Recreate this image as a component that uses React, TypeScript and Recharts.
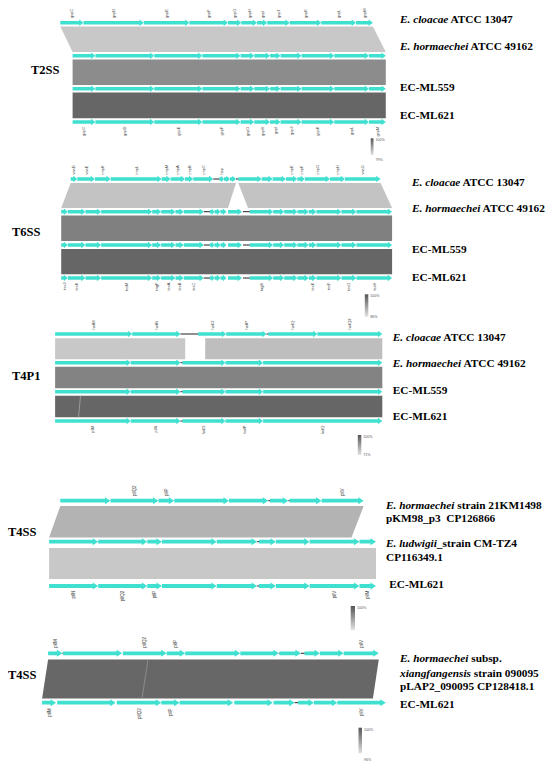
import React from 'react';
import { ComposedChart, XAxis, YAxis, ReferenceArea, ReferenceLine, Scatter } from 'recharts';

type Seg = [number, number];

const W = 550;
const H = 768;
const TEAL = '#40e0d0';
const SERIF = "'Liberation Serif', 'Times New Roman', serif";
const SANS = "'Liberation Sans', Arial, sans-serif";

// ---------------- T2SS ----------------
const T2SS_NAMES = ['gspC', 'gspD', 'gspE', 'gspF', 'gspG', 'gspH', 'gspI', 'gspJ', 'gspK', 'gspL', 'gspM'];
const T2SS_TOP_BOUNDS = [60.3, 83.5, 143.8, 189.4, 228, 241.3, 257.1, 267.3, 289.7, 321.3, 356, 372.9];
const T2SS_LOW_BOUNDS = [72.6, 95.4, 154.3, 202.4, 240.6, 254.3, 270.1, 280.6, 301.6, 334.3, 369, 385.8];
const T2SS_ROWS = [22.7, 55.7, 88.7, 122];

// ---------------- T6SS ----------------
const T6SS_TOP_GENES: Seg[] = [
  [70.7, 77.3], [77.3, 95], [95, 110.7], [110.7, 161.7], [161.7, 170.7], [170.7, 185], [185, 193.3], [193.3, 213.3],
  [219.3, 224], [224, 230], [230, 236],
  [238.3, 261.7], [261.7, 272.7], [272.7, 286], [286, 297.3], [297.3, 305], [305, 330], [330, 345], [345, 380.6],
];
const T6SS_TOP_LINES: Seg[] = [[213.3, 219.3], [236, 238.3]];
const T6SS_LOW_GENES: Seg[] = [
  [61.2, 67.8], [67.8, 85.5], [85.5, 101.2], [101.2, 152.2], [152.2, 161.2], [161.2, 175.5], [175.5, 183.8], [183.8, 203.8],
  [209.8, 214.5], [214.5, 220.5], [220.5, 226.5], [228, 242],
  [249.8, 273.2], [273.2, 284.2], [284.2, 297.5], [297.5, 308.8], [308.8, 316.5], [316.5, 341.5], [341.5, 356.5], [356.5, 392.1],
];
const T6SS_LOW_LINES: Seg[] = [[203.8, 209.8], [243, 249.8]];
const T6SS_TOP_LABELS: [number, string][] = [
  [0, 'vasD'], [1, 'vasE'], [2, 'impK'], [3, 'impL'], [4, 'impM'], [5, 'impA'], [6, 'impB'], [7, 'impC'], [8, 'hcp'],
  [14, 'impE'], [15, 'impF'], [16, 'impG'], [17, 'impH'], [18, 'vasG'],
];
const T6SS_BOTTOM_LABELS: [number, string][] = [
  [0, 'tssJ'], [1, 'tssK'], [3, 'tssM'], [4, 'tagF'], [5, 'tssA'], [6, 'tssB'], [7, 'tssC'],
  [12, 'tagH'], [16, 'tssE'], [17, 'tssF'], [18, 'tssG'], [19, 'tssH'],
];
const T6SS_ROWS = [179, 211.7, 245, 278];

// ---------------- T4P1 ----------------
const T4P1_TOP_GENES: Seg[] = [[55.1, 132.2], [132.2, 180.6], [198.2, 226.2], [226.2, 266.6], [268.3, 317.4], [317.4, 382.3]];
const T4P1_TOP_LINES: Seg[] = [[180.6, 198.2], [266.6, 268.3]];
const T4P1_LOW_GENES: Seg[] = [[55.1, 130.8], [130.8, 180.6], [182.4, 225.5], [225.5, 263.1], [263.1, 382.3]];
const T4P1_LOW_LINES: Seg[] = [[180.6, 182.4]];
const T4P1_TOP_LABELS: [number, string][] = [[0, 'hofM'], [1, 'hofN'], [2, 'hofO'], [3, 'hofP'], [4, 'hofQ'], [5, 'hofQ2']];
const T4P1_BOTTOM_LABELS: [number, string][] = [[0, 'pilM'], [1, 'pilN'], [2, 'hofO'], [3, 'hofP'], [4, 'hofQ']];
const T4P1_ROWS = [334, 362.7, 391.7, 421];

// ---------------- T4SS (1) ----------------
const T4SSA_TOP_GENES: Seg[] = [[60.3, 110.5], [110.5, 158.5], [158.5, 174.3], [174.3, 229], [229, 268.3], [270, 288.3], [289.4, 321.6], [321.6, 363.7]];
const T4SSA_TOP_LINES: Seg[] = [[268.3, 270], [288.3, 289.4]];
const T4SSA_LOW_GENES: Seg[] = [[49.1, 98.2], [98.2, 147.3], [147.3, 162], [162, 216.8], [216.8, 257.1], [258.9, 276], [276, 309.7], [309.7, 359.5], [359.5, 376]];
const T4SSA_LOW_LINES: Seg[] = [[257.1, 258.9]];
const T4SSA_TOP_LABELS: [number, string][] = [[1, 'pilQ2'], [2, 'pilP'], [7, 'pilV']];
const T4SSA_BOTTOM_LABELS: [number, string][] = [[0, 'pilN'], [1, 'pilQ2'], [2, 'pilP'], [7, 'pilV'], [8, 'pilM']];
const T4SSA_ROWS = [500.7, 541.7, 586];

// ---------------- T4SS (2) ----------------
const T4SSB_TOP_GENES: Seg[] = [[48.1, 62.4], [63.1, 122.1], [122.8, 166.6], [166.6, 185.2], [185.2, 240.3], [240.3, 278.9], [279.5, 300.9], [304.5, 319.9], [319.9, 343.7], [343.7, 378.8]];
const T4SSB_TOP_LINES: Seg[] = [[62.4, 63.1], [278.9, 279.5], [300.9, 304.5]];
const T4SSB_LOW_GENES: Seg[] = [[42.1, 56.1], [57.2, 115.7], [116.8, 161.3], [161.3, 179.6], [179.6, 233.2], [234.3, 272.9], [273.6, 294.6], [298.1, 313.9], [313.9, 337.4], [337.4, 385.8]];
const T4SSB_LOW_LINES: Seg[] = [[294.6, 298.1]];
const T4SSB_TOP_LABELS: [number, string][] = [[0, 'pilM'], [2, 'pilQ2'], [3, 'pilP'], [9, 'pilV']];
const T4SSB_BOTTOM_LABELS: [number, string][] = [[0, 'pilM'], [2, 'pilQ2'], [3, 'pilP'], [9, 'pilV']];
const T4SSB_ROWS = [653.3, 702.7];

// ---------------- alignment bands ----------------
type Band = { top: Seg; bottom: Seg; y: Seg; fill: string };
const BANDS: Band[] = [
  { top: [60.3, 372.9], bottom: [72.6, 385.8], y: [26.5, 52], fill: '#c8c8c8' },
  { top: [72.6, 385.8], bottom: [72.6, 385.8], y: [59.5, 85], fill: '#8c8c8c' },
  { top: [72.6, 385.8], bottom: [72.6, 385.8], y: [92.5, 118.3], fill: '#666666' },

  { top: [70.7, 236], bottom: [61.2, 228], y: [183, 208], fill: '#c3c3c3' },
  { top: [238.3, 380.6], bottom: [248, 392.1], y: [183, 208], fill: '#c3c3c3' },
  { top: [61.2, 392.1], bottom: [61.2, 392.1], y: [215.5, 241], fill: '#808080' },
  { top: [61.2, 392.1], bottom: [61.2, 392.1], y: [249, 274.3], fill: '#666666' },

  { top: [55.1, 185.2], bottom: [55.1, 185.2], y: [338.3, 359.3], fill: '#c8c8c8' },
  { top: [205.2, 382.3], bottom: [205.2, 382.3], y: [338.3, 359.3], fill: '#bebebe' },
  { top: [55.1, 382.3], bottom: [55.1, 382.3], y: [366.7, 388.3], fill: '#838383' },
  { top: [55.1, 382.3], bottom: [55.1, 382.3], y: [395.7, 417.3], fill: '#666666' },

  { top: [60.3, 363.7], bottom: [49.1, 351.5], y: [506, 537.5], fill: '#b3b3b3' },
  { top: [49.1, 376], bottom: [49.1, 376], y: [548, 579], fill: '#c8c8c8' },

  { top: [48.1, 378.8], bottom: [42.1, 372.9], y: [659.5, 698.5], fill: '#676767' },
];
const SEAMS: { a: [number, number]; b: [number, number]; color: string }[] = [
  { a: [80.5, 395.7], b: [78.5, 417.3], color: '#9a9a9a' },
  { a: [148, 659.5], b: [142, 698.5], color: '#8c8c8c' },
];

// ---------------- texts ----------------
const TITLES = [
  { x: 31, y: 69.5, name: 'T2SS' },
  { x: 12, y: 231.5, name: 'T6SS' },
  { x: 12, y: 376, name: 'T4P1' },
  { x: 8, y: 531.7, name: 'T4SS' },
  { x: 8, y: 675, name: 'T4SS' },
];
const SPECIES = [
  { x: 400, y: 19, it: 'E. cloacae', rest: ' ATCC 13047' },
  { x: 400, y: 46, it: 'E. hormaechei', rest: ' ATCC 49162' },
  { x: 400, y: 87.3, it: '', rest: 'EC-ML559' },
  { x: 400, y: 115, it: '', rest: 'EC-ML621' },
  { x: 412, y: 181.7, it: 'E. cloacae', rest: ' ATCC 13047' },
  { x: 412, y: 207.7, it: 'E. hormaechei', rest: ' ATCC 49162' },
  { x: 412, y: 249, it: '', rest: 'EC-ML559' },
  { x: 412, y: 277.3, it: '', rest: 'EC-ML621' },
  { x: 392.8, y: 336.7, it: 'E. cloacae', rest: ' ATCC 13047' },
  { x: 392.8, y: 363.3, it: 'E. hormaechei', rest: ' ATCC 49162' },
  { x: 392.8, y: 390, it: '', rest: 'EC-ML559' },
  { x: 392.8, y: 416, it: '', rest: 'EC-ML621' },
  { x: 386, y: 504.5, it: 'E. hormaechei', rest: ' strain 21KM1498' },
  { x: 386, y: 517.5, it: '', rest: 'pKM98_p3\u00a0\u00a0CP126866' },
  { x: 386, y: 543, it: 'E. ludwigii', rest: '_strain CM-TZ4' },
  { x: 386, y: 556.5, it: '', rest: 'CP116349.1' },
  { x: 389.3, y: 583.5, it: '', rest: 'EC-ML621' },
  { x: 400, y: 658.3, it: 'E. hormaechei', rest: ' subsp.' },
  { x: 400, y: 672.5, it: 'xiangfangensis', rest: ' strain 090095' },
  { x: 400, y: 686, it: '', rest: 'pLAP2_090095 CP128418.1' },
  { x: 400, y: 704.3, it: '', rest: 'EC-ML621' },
];
const LEGENDS = [
  { id: 'lg1', x: [370.7, 373.5] as Seg, y: [138.3, 155] as Seg, hi: '100%', hiY: 140, lo: '79%', loY: 160 },
  { id: 'lg2', x: [364.8, 368.3] as Seg, y: [294.3, 316.7] as Seg, hi: '100%', hiY: 296, lo: '86%', loY: 316.5 },
  { id: 'lg3', x: [357.8, 361.3] as Seg, y: [435, 455] as Seg, hi: '100%', hiY: 437, lo: '71%', loY: 455 },
  { id: 'lg4', x: [350.7, 355] as Seg, y: [606, 630] as Seg, hi: '100%', hiY: 607.7, lo: '', loY: 630 },
  { id: 'lg5', x: [358.5, 362] as Seg, y: [727.7, 753.3] as Seg, hi: '100%', hiY: 730, lo: '96%', loY: 760 },
];

// ---------------- build ----------------
const chain = (b: number[]): Seg[] => b.slice(0, -1).map((v, i) => [v, b[i + 1]] as Seg);
type Track = { y: number; genes: Seg[]; lines: Seg[]; half: number; head: number };
const mk = (y: number, genes: Seg[], lines: Seg[], big = false): Track => ({ y, genes, lines, half: big ? 3.5 : 3.2, head: big ? 5.5 : 4.3 });

const TRACKS: Track[] = [
  mk(T2SS_ROWS[0], chain(T2SS_TOP_BOUNDS), []),
  ...T2SS_ROWS.slice(1).map((y) => mk(y, chain(T2SS_LOW_BOUNDS), [])),
  mk(T6SS_ROWS[0], T6SS_TOP_GENES, T6SS_TOP_LINES),
  ...T6SS_ROWS.slice(1).map((y) => mk(y, T6SS_LOW_GENES, T6SS_LOW_LINES)),
  mk(T4P1_ROWS[0], T4P1_TOP_GENES, T4P1_TOP_LINES),
  ...T4P1_ROWS.slice(1).map((y) => mk(y, T4P1_LOW_GENES, T4P1_LOW_LINES)),
  mk(T4SSA_ROWS[0], T4SSA_TOP_GENES, T4SSA_TOP_LINES, true),
  ...T4SSA_ROWS.slice(1).map((y) => mk(y, T4SSA_LOW_GENES, T4SSA_LOW_LINES, true)),
  mk(T4SSB_ROWS[0], T4SSB_TOP_GENES, T4SSB_TOP_LINES, true),
  mk(T4SSB_ROWS[1], T4SSB_LOW_GENES, T4SSB_LOW_LINES, true),
];

type GL = { x: number; y: number; name: string; top: boolean; size: number };
const labelsFor = (genes: Seg[], labels: [number, string][], rowY: number, top: boolean, size = 4): GL[] =>
  labels.map(([i, name]) => ({ x: (genes[i][0] + genes[i][1]) / 2, y: top ? rowY - 4.6 : rowY + 4.6, name, top, size }));

const GENE_LABELS: GL[] = [
  ...labelsFor(chain(T2SS_TOP_BOUNDS), T2SS_NAMES.map((n, i) => [i, n] as [number, string]), T2SS_ROWS[0], true),
  ...labelsFor(chain(T2SS_LOW_BOUNDS), T2SS_NAMES.map((n, i) => [i, n] as [number, string]), T2SS_ROWS[3], false),
  ...labelsFor(T6SS_TOP_GENES, T6SS_TOP_LABELS, T6SS_ROWS[0], true),
  ...labelsFor(T6SS_LOW_GENES, T6SS_BOTTOM_LABELS, T6SS_ROWS[3], false),
  ...labelsFor(T4P1_TOP_GENES, T4P1_TOP_LABELS, T4P1_ROWS[0], true),
  ...labelsFor(T4P1_LOW_GENES, T4P1_BOTTOM_LABELS, T4P1_ROWS[3], false),
  ...labelsFor(T4SSA_TOP_GENES, T4SSA_TOP_LABELS, T4SSA_ROWS[0], true, 4.6),
  ...labelsFor(T4SSA_LOW_GENES, T4SSA_BOTTOM_LABELS, T4SSA_ROWS[2], false, 4.6),
  ...labelsFor(T4SSB_TOP_GENES, T4SSB_TOP_LABELS, T4SSB_ROWS[0] - 1, true, 4.6),
  ...labelsFor(T4SSB_LOW_GENES, T4SSB_BOTTOM_LABELS, T4SSB_ROWS[1] + 1, false, 4.6),
];

const LEGEND_TEXT = LEGENDS.flatMap((l) => [
  { x: l.x[1] + 2, y: l.hiY, name: l.hi },
  ...(l.lo ? [{ x: l.x[1] + 2, y: l.loY, name: l.lo }] : []),
]);

// ---------------- shapes ----------------
const arrowShape = (headLen: number) => (p: any) => {
  const { x, y, width, height } = p;
  const cy = y + height / 2;
  const hs = height * 0.27;
  const L = Math.min(headLen, width * 0.6);
  const xe = x + width;
  const pts = [
    [x, cy - hs], [xe - L, cy - hs], [xe - L, y], [xe, cy], [xe - L, y + height], [xe - L, cy + hs], [x, cy + hs],
  ].map((q) => q.join(',')).join(' ');
  return <polygon points={pts} fill={TEAL} />;
};

const bandShape = (b: Band) => (p: any) => {
  const lo = Math.min(b.top[0], b.bottom[0]);
  const hi = Math.max(b.top[1], b.bottom[1]);
  const px = (v: number) => p.x + ((v - lo) / (hi - lo)) * p.width;
  const pts = [
    [px(b.top[0]), p.y], [px(b.top[1]), p.y], [px(b.bottom[1]), p.y + p.height], [px(b.bottom[0]), p.y + p.height],
  ].map((q) => q.join(',')).join(' ');
  return <polygon points={pts} fill={b.fill} />;
};

const legendShape = (id: string) => (p: any) => (
  <g>
    <defs>
      <linearGradient id={id} x1="0" y1="0" x2="0" y2="1">
        <stop offset="0" stopColor="#555555" />
        <stop offset="1" stopColor="#e2e2e2" />
      </linearGradient>
    </defs>
    <rect x={p.x} y={p.y} width={p.width} height={p.height} fill={`url(#${id})`} />
  </g>
);

const GeneLabelShape = (p: any) => {
  const d = p.payload as GL;
  return (
    <text
      x={p.cx}
      y={p.cy}
      transform={`rotate(-90 ${p.cx} ${p.cy})`}
      textAnchor={d.top ? 'start' : 'end'}
      dominantBaseline="central"
      fontFamily={SANS}
      fontSize={d.size}
      fill="#444"
    >
      {d.name}
    </text>
  );
};

const SpeciesShape = (p: any) => {
  const d = p.payload;
  return (
    <text x={p.cx} y={p.cy} dominantBaseline="central" fontFamily={SERIF} fontWeight="bold" fontSize={11.3} fill="#000">
      {d.it ? <tspan fontStyle="italic">{d.it}</tspan> : null}
      <tspan>{d.rest}</tspan>
    </text>
  );
};

const TitleShape = (p: any) => (
  <text x={p.cx} y={p.cy} dominantBaseline="central" fontFamily={SERIF} fontWeight="bold" fontSize={12.5} fill="#000">
    {p.payload.name}
  </text>
);

const LegendTextShape = (p: any) => (
  <text x={p.cx} y={p.cy} dominantBaseline="central" fontFamily={SANS} fontSize={3.6} fill="#555">
    {p.payload.name}
  </text>
);

export default function App() {
  return (
    <div style={{ position: 'absolute', left: 0, top: 0, width: W, height: H, background: '#fff' }}>
      <ComposedChart width={W} height={H} margin={{ top: 0, right: 0, bottom: 0, left: 0 }}>
        <XAxis type="number" dataKey="x" domain={[0, W]} allowDataOverflow hide />
        <YAxis type="number" dataKey="y" domain={[0, H]} allowDataOverflow reversed hide />

        {BANDS.map((b, i) => (
          <ReferenceArea
            key={`band${i}`}
            x1={Math.min(b.top[0], b.bottom[0])}
            x2={Math.max(b.top[1], b.bottom[1])}
            y1={b.y[0]}
            y2={b.y[1]}
            shape={bandShape(b)}
          />
        ))}
        {SEAMS.map((s, i) => (
          <ReferenceLine
            key={`seam${i}`}
            segment={[{ x: s.a[0], y: s.a[1] }, { x: s.b[0], y: s.b[1] }]}
            stroke={s.color}
            strokeWidth={1}
          />
        ))}

        {TRACKS.flatMap((t, ti) =>
          t.lines.map((l, li) => (
            <ReferenceLine
              key={`ln${ti}-${li}`}
              segment={[{ x: l[0], y: t.y }, { x: l[1], y: t.y }]}
              stroke="#222"
              strokeWidth={1}
            />
          ))
        )}
        {TRACKS.flatMap((t, ti) =>
          t.genes.map((g, gi) => (
            <ReferenceArea
              key={`g${ti}-${gi}`}
              x1={g[0]}
              x2={g[1]}
              y1={t.y - t.half}
              y2={t.y + t.half}
              shape={arrowShape(t.head)}
            />
          ))
        )}

        {LEGENDS.map((l) => (
          <ReferenceArea key={l.id} x1={l.x[0]} x2={l.x[1]} y1={l.y[0]} y2={l.y[1]} shape={legendShape(l.id)} />
        ))}

        <Scatter data={GENE_LABELS} isAnimationActive={false} shape={GeneLabelShape} />
        <Scatter data={SPECIES} isAnimationActive={false} shape={SpeciesShape} />
        <Scatter data={TITLES} isAnimationActive={false} shape={TitleShape} />
        <Scatter data={LEGEND_TEXT} isAnimationActive={false} shape={LegendTextShape} />
      </ComposedChart>
    </div>
  );
}
